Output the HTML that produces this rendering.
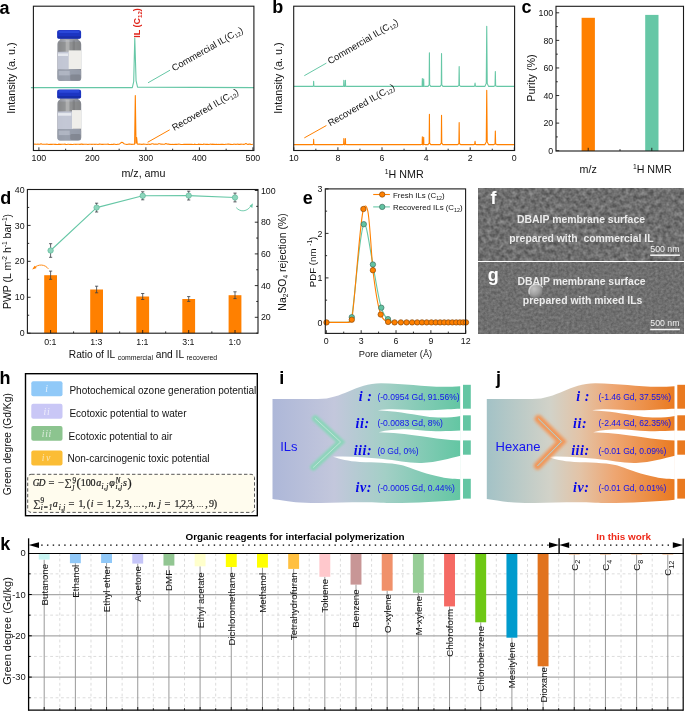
<!DOCTYPE html>
<html lang="en"><head><meta charset="utf-8"><title>Figure</title>
<style>html,body{margin:0;padding:0;background:#fff}svg{display:block}</style>
</head><body>
<svg width="685" height="711" viewBox="0 0 685 711" font-family='"Liberation Sans", Arial, sans-serif' shape-rendering="geometricPrecision">
<defs>
<linearGradient id="gBody" x1="0" y1="0" x2="1" y2="0">
<stop offset="0" stop-color="#8b8e96"/><stop offset="0.35" stop-color="#a9acb3"/><stop offset="0.7" stop-color="#979aa2"/><stop offset="1" stop-color="#83868d"/>
</linearGradient>
<linearGradient id="gIL" x1="0" y1="0" x2="1" y2="0">
<stop offset="0" stop-color="#adb7d8"/><stop offset="0.33" stop-color="#c3c7dc"/><stop offset="0.6" stop-color="#a3cfc6"/><stop offset="1" stop-color="#63c6a3"/>
</linearGradient>
<linearGradient id="gHX" x1="0" y1="0" x2="1" y2="0">
<stop offset="0" stop-color="#a3c2c6"/><stop offset="0.34" stop-color="#d2d2c8"/><stop offset="0.5" stop-color="#e3c3a6"/><stop offset="0.68" stop-color="#eea672"/><stop offset="1" stop-color="#ea7a20"/>
</linearGradient>
<filter id="blur2" x="-30%" y="-30%" width="160%" height="160%"><feGaussianBlur stdDeviation="1.1"/></filter>
<filter id="blur3" x="-30%" y="-30%" width="160%" height="160%"><feGaussianBlur stdDeviation="1.7"/></filter>
<filter id="soft" x="-10%" y="-10%" width="120%" height="120%"><feGaussianBlur stdDeviation="0.45"/></filter>
<filter id="semF" color-interpolation-filters="sRGB" x="0" y="0" width="100%" height="100%">
<feTurbulence type="fractalNoise" baseFrequency="0.24" numOctaves="2" seed="7" result="n"/>
<feColorMatrix type="matrix" values="0.38 0 0 0 0.245  0.38 0 0 0 0.245  0.38 0 0 0 0.245  0 0 0 0 1"/>
</filter>
<filter id="semG" color-interpolation-filters="sRGB" x="0" y="0" width="100%" height="100%">
<feTurbulence type="fractalNoise" baseFrequency="0.36" numOctaves="2" seed="11" result="n"/>
<feColorMatrix type="matrix" values="0.22 0 0 0 0.325  0.22 0 0 0 0.325  0.22 0 0 0 0.325  0 0 0 0 1"/>
</filter>
<radialGradient id="blob" cx="0.4" cy="0.35" r="0.65">
<stop offset="0" stop-color="#c9c9c9"/><stop offset="0.6" stop-color="#a5a5a5"/><stop offset="1" stop-color="#7d7d7d"/>
</radialGradient>
</defs>
<rect x="0" y="0" width="685" height="711" fill="#fff" />
<g>
<text x="-0.6" y="13.7" font-size="18" text-anchor="start" fill="#000" font-weight="bold" font-style="normal" >a</text>
<g transform="translate(57.2 29.9)" filter="url(#soft)">
<path d="M3,7.5 L21,7.5 L21.2,10 C23,11 24,12.4 24,14.5 L24,48 C24,50 22.5,51 20.5,51 L3.5,51 C1.5,51 0.2,50 0.2,48 L0.2,14.5 C0.2,12.4 1.2,11 2.8,10 Z" fill="url(#gBody)"/>
<rect x="1.2" y="12" width="21.8" height="9.5" fill="#84847f" opacity="0.55"/>
<rect x="8.5" y="10" width="3.8" height="12" fill="#c6c7c6" opacity="0.55"/>
<rect x="15.5" y="10.5" width="2.2" height="10" fill="#6d6e70" opacity="0.4"/>
<rect x="0.4" y="22" width="12" height="17.5" fill="#c6cad8" opacity="0.92"/>
<rect x="0.8" y="23.5" width="10" height="2.6" fill="#eceef3" opacity="0.85"/>
<rect x="0.3" y="39.5" width="23.6" height="11.3" rx="2" fill="#969dac" opacity="0.85"/>
<rect x="1.5" y="41" width="11" height="4.5" fill="#b9bfcc" opacity="0.7"/>
<rect x="13" y="44.5" width="10.5" height="6" rx="1.5" fill="#72777f" opacity="0.55"/>
<rect x="11.5" y="20.5" width="12.5" height="18.6" fill="#efeeea"/>
<path d="M2.2,0 L21.6,0 C22.9,0 23.9,0.9 23.9,2.2 L23.9,7.2 C23.9,8.4 23.3,8.9 22.3,8.9 L1.5,8.9 C0.5,8.9 -0.1,8.4 -0.1,7.2 L-0.1,2.2 C-0.1,0.9 0.9,0 2.2,0 Z" fill="#1f36c2"/>
<rect x="1.6" y="0.5" width="20.6" height="2.6" rx="1.3" fill="#2d49dc" opacity="0.9"/>
<rect x="0.5" y="6.4" width="22.8" height="2.2" rx="1" fill="#172a9c" opacity="0.7"/>
</g>
<g transform="translate(57.2 89.6)" filter="url(#soft)">
<path d="M3,7.5 L21,7.5 L21.2,10 C23,11 24,12.4 24,14.5 L24,48 C24,50 22.5,51 20.5,51 L3.5,51 C1.5,51 0.2,50 0.2,48 L0.2,14.5 C0.2,12.4 1.2,11 2.8,10 Z" fill="url(#gBody)"/>
<rect x="1.2" y="12" width="21.8" height="9.5" fill="#84847f" opacity="0.55"/>
<rect x="8.5" y="10" width="3.8" height="12" fill="#c6c7c6" opacity="0.55"/>
<rect x="15.5" y="10.5" width="2.2" height="10" fill="#6d6e70" opacity="0.4"/>
<rect x="0.4" y="22" width="15.3" height="17.5" fill="#c6cad8" opacity="0.92"/>
<rect x="0.8" y="23.5" width="13.3" height="2.6" fill="#eceef3" opacity="0.85"/>
<rect x="0.3" y="39.5" width="23.6" height="11.3" rx="2" fill="#969dac" opacity="0.85"/>
<rect x="1.5" y="41" width="11" height="4.5" fill="#b9bfcc" opacity="0.7"/>
<rect x="13" y="44.5" width="10.5" height="6" rx="1.5" fill="#72777f" opacity="0.55"/>
<rect x="14.8" y="20.5" width="9.2" height="18.6" fill="#efeeea"/>
<path d="M2.2,0 L21.6,0 C22.9,0 23.9,0.9 23.9,2.2 L23.9,7.2 C23.9,8.4 23.3,8.9 22.3,8.9 L1.5,8.9 C0.5,8.9 -0.1,8.4 -0.1,7.2 L-0.1,2.2 C-0.1,0.9 0.9,0 2.2,0 Z" fill="#1f36c2"/>
<rect x="1.6" y="0.5" width="20.6" height="2.6" rx="1.3" fill="#2d49dc" opacity="0.9"/>
<rect x="0.5" y="6.4" width="22.8" height="2.2" rx="1" fill="#172a9c" opacity="0.7"/>
</g>
<polyline points="30.9,87.6 132.31,87.6 133.7,81.6 134.77,38 136.06,80.6 137.55,87.1 253.9,87.6" fill="none" stroke="#66C7A6" stroke-width="1.1" stroke-linejoin="round" />
<polyline points="33.9,144.2 34.9,144.16 35.9,144.26 36.9,144.18 37.9,144.14 38.9,144.26 39.9,144.28 40.9,143.72 41.9,144.08 42.9,144.18 43.9,144.31 44.9,144.22 45.9,144.18 46.9,144.16 47.9,144.2 48.9,144.45 49.9,144.42 50.9,144.41 51.9,144.41 52.9,144.19 53.9,144.23 54.9,144.35 55.9,144.38 56.9,144.43 57.9,144.44 58.9,144.15 59.9,144.34 60.9,144.36 61.9,144.3 62.9,144.18 63.9,144.29 64.9,144.15 65.9,144.46 66.9,144.43 67.9,144.32 68.9,144.23 69.9,144.45 70.9,144.33 71.9,144.44 72.9,144.43 73.9,144.3 74.9,144.27 75.9,144.34 76.9,144.28 77.9,144.18 78.9,144.23 79.9,144.41 80.9,144.14 81.9,144.14 82.9,144.35 83.9,144.22 84.9,144.31 85.9,144.29 86.9,144.24 87.9,144.48 88.9,144.19 89.9,144.27 90.9,144.19 91.9,144.35 92.9,144.22 93.9,144.25 94.9,144.39 95.9,144.24 96.9,144.32 97.9,144.45 98.9,144.16 99.9,144.14 100.9,144.2 101.9,144.4 102.9,144.34 103.9,144.21 104.9,144.24 105.9,144.18 106.9,144.29 107.9,144.14 108.9,144.37 109.9,144.44 110.9,144.46 111.9,144.38 112.9,144.47 113.9,144.13 114.9,144.22 115.9,144.47 116.9,144.4 117.9,144.24 118.9,144.26 119.9,143.61 120.9,142.83 121.9,142.23 122.9,142.72 123.9,143.65 124.9,144.01 125.9,144.23 126.9,144.46 127.9,144.24 128.9,144.12 129.9,144.14 130.9,144.18 131.9,144.4 132.9,144.25 133.9,144.22 134.61,144.3 135.31,95.5 136,143.3 136.64,137.5 137.29,144 137.9,144.19 138.9,144.14 139.9,144.14 140.9,144.18 141.9,144.36 142.9,144.17 143.9,144.13 144.9,144.3 145.9,144.21 146.9,144.48 147.9,144.16 148.9,144.31 149.9,144.4 150.9,144.18 151.9,143.81 152.9,143.74 153.9,144.15 154.9,144.27 155.9,144.13 156.9,144.27 157.9,144.09 158.9,143.67 159.9,143.83 160.9,144.25 161.9,144.13 162.9,144.21 163.9,144.21 164.9,144.09 165.9,143.58 166.9,144 167.9,144.14 168.9,144.14 169.9,144.45 170.9,144.32 171.9,144.48 172.9,144.27 173.9,144.44 174.9,144.36 175.9,144.4 176.9,144.39 177.9,144.3 178.9,144.15 179.9,144.2 180.9,144.43 181.9,144.44 182.9,144.45 183.9,144.24 184.9,144.36 185.9,144.41 186.9,144.35 187.9,144.41 188.9,144.31 189.9,144.36 190.9,144.37 191.9,144.22 192.9,144.45 193.9,144.46 194.9,144.15 195.9,144.47 196.9,144.47 197.9,144.36 198.9,144.14 199.9,144.44 200.9,144.17 201.9,144.47 202.9,144.36 203.9,144.14 204.9,144.18 205.9,144.35 206.9,144.32 207.9,144.39 208.9,144.45 209.9,144.2 210.9,144.12 211.9,144.45 212.9,144.12 213.9,144.44 214.9,144.16 215.9,144.41 216.9,144.4 217.9,144.44 218.9,144.32 219.9,144.44 220.9,144.19 221.9,144.36 222.9,144.24 223.9,144.44 224.9,144.4 225.9,144.29 226.9,144.31 227.9,144.13 228.9,144.13 229.9,144.33 230.9,144.3 231.9,144.43 232.9,144.34 233.9,144.17 234.9,144.25 235.9,144.4 236.9,144.31 237.9,144.12 238.9,144.42 239.9,144.42 240.9,144.15 241.9,144.32 242.9,144.26 243.9,144.4 244.9,144.05 245.9,143.61 246.9,144.07 247.9,144.46 248.9,144.15 249.9,144.16 250.9,144.34 251.9,144.44 252.9,144.3" fill="none" stroke="#FF8000" stroke-width="1.1" stroke-linejoin="round" />
<line x1="38.9" y1="150.5" x2="38.9" y2="147.3" stroke="#1a1a1a" stroke-width="0.9" />
<line x1="65.65" y1="150.5" x2="65.65" y2="148.7" stroke="#1a1a1a" stroke-width="0.9" />
<line x1="92.4" y1="150.5" x2="92.4" y2="147.3" stroke="#1a1a1a" stroke-width="0.9" />
<line x1="119.15" y1="150.5" x2="119.15" y2="148.7" stroke="#1a1a1a" stroke-width="0.9" />
<line x1="145.9" y1="150.5" x2="145.9" y2="147.3" stroke="#1a1a1a" stroke-width="0.9" />
<line x1="172.65" y1="150.5" x2="172.65" y2="148.7" stroke="#1a1a1a" stroke-width="0.9" />
<line x1="199.4" y1="150.5" x2="199.4" y2="147.3" stroke="#1a1a1a" stroke-width="0.9" />
<line x1="226.15" y1="150.5" x2="226.15" y2="148.7" stroke="#1a1a1a" stroke-width="0.9" />
<line x1="252.9" y1="150.5" x2="252.9" y2="147.3" stroke="#1a1a1a" stroke-width="0.9" />
<rect x="33.4" y="6.2" width="220.5" height="144.3" fill="none" stroke="#1a1a1a" stroke-width="1.1"/>
<text x="38.9" y="161.25" font-size="8.8" text-anchor="middle" fill="#111" font-weight="normal" font-style="normal" >100</text>
<text x="92.4" y="161.25" font-size="8.8" text-anchor="middle" fill="#111" font-weight="normal" font-style="normal" >200</text>
<text x="145.9" y="161.25" font-size="8.8" text-anchor="middle" fill="#111" font-weight="normal" font-style="normal" >300</text>
<text x="199.4" y="161.25" font-size="8.8" text-anchor="middle" fill="#111" font-weight="normal" font-style="normal" >400</text>
<text x="252.9" y="161.25" font-size="8.8" text-anchor="middle" fill="#111" font-weight="normal" font-style="normal" >500</text>
<text x="143.4" y="177.03" font-size="10.7" text-anchor="middle" fill="#111" font-weight="normal" font-style="normal" >m/z, amu</text>
<text x="15.47" y="78.1" font-size="10.8" text-anchor="middle" fill="#111" font-weight="normal" font-style="normal" transform="rotate(-90 15.47 78.1)" >Intansity (a. u.)</text>
<text x="140.3" y="37.8" font-size="9" text-anchor="start" fill="#e0261c" font-weight="bold" font-style="normal" transform="rotate(-90 140.3 37.8)" >IL (C<tspan font-size="6" dy="1.8">12</tspan><tspan dy="-1.8">)</tspan></text>
<line x1="148" y1="82.8" x2="170" y2="70.2" stroke="#66C7A6" stroke-width="1" />
<text x="174" y="71.4" font-size="9.4" text-anchor="start" fill="#111" font-weight="normal" font-style="normal" transform="rotate(-29.5 174 71.4)" >Commercial IL(C<tspan font-size="6" dy="1.8">12</tspan><tspan dy="-1.8">)</tspan></text>
<line x1="147.6" y1="142.3" x2="169.7" y2="129.8" stroke="#FF8000" stroke-width="1" />
<text x="174.2" y="131" font-size="9.3" text-anchor="start" fill="#111" font-weight="normal" font-style="normal" transform="rotate(-29.8 174.2 131)" >Recovered IL(C<tspan font-size="6" dy="1.8">12</tspan><tspan dy="-1.8">)</tspan></text>
</g>
<g>
<text x="272.3" y="13.4" font-size="18" text-anchor="start" fill="#000" font-weight="bold" font-style="normal" >b</text>
<polyline points="293.7,86.4 312.29,86.4 313.44,86.14 313.64,81.2 313.85,86.14 315,86.4 342.5,86.4 343.64,86.09 343.85,80.3 344.06,86.09 345.2,86.4 344.05,86.4 345.19,86.09 345.4,80.3 345.61,86.09 346.75,86.4 421,86.4 422.14,86.01 422.35,78.6 422.56,86.01 423.7,86.4 422.32,86.4 423.46,86.03 423.67,79 423.88,86.03 425.02,86.4 428.01,86.4 429.17,84.72 429.41,52.7 429.65,84.72 430.81,86.4 440.13,86.4 441.29,84.76 441.53,53.5 441.77,84.76 442.93,86.4 457.72,86.4 458.9,85.41 459.17,66.6 459.44,85.41 460.62,86.4 473.35,86.4 474.63,86.23 475.05,83 475.47,86.23 476.75,86.4 484.94,86.4 486.26,83.39 486.74,26.2 487.22,83.39 488.54,86.4 493.84,86.4 495.04,85.66 495.34,71.5 495.64,85.66 496.84,86.4 514.6,86.4" fill="none" stroke="#66C7A6" stroke-width="1.1" stroke-linejoin="round" />
<polyline points="293.7,144.6 312.29,144.6 313.44,144.34 313.64,139.4 313.85,144.34 315,144.6 342.5,144.6 343.64,144.29 343.85,138.5 344.06,144.29 345.2,144.6 344.05,144.6 345.19,144.29 345.4,138.5 345.61,144.29 346.75,144.6 421,144.6 422.14,144.21 422.35,136.8 422.56,144.21 423.7,144.6 422.32,144.6 423.46,144.23 423.67,137.2 423.88,144.23 425.02,144.6 428.01,144.6 429.17,143.09 429.41,114.3 429.65,143.09 430.81,144.6 440.13,144.6 441.29,143.13 441.53,115.2 441.77,143.13 442.93,144.6 457.72,144.6 458.9,143.5 459.17,122.5 459.44,143.5 460.62,144.6 473.35,144.6 474.63,144.43 475.05,141.2 475.47,144.43 476.75,144.6 484.94,144.6 486.26,141.88 486.74,90.3 487.22,141.88 488.54,144.6 493.84,144.6 495.04,143.92 495.34,131.1 495.64,143.92 496.84,144.6 514.6,144.6" fill="none" stroke="#FF8000" stroke-width="1.1" stroke-linejoin="round" />
<line x1="514.3" y1="150.5" x2="514.3" y2="147.3" stroke="#1a1a1a" stroke-width="0.9" />
<line x1="492.25" y1="150.5" x2="492.25" y2="148.7" stroke="#1a1a1a" stroke-width="0.9" />
<line x1="470.2" y1="150.5" x2="470.2" y2="147.3" stroke="#1a1a1a" stroke-width="0.9" />
<line x1="448.15" y1="150.5" x2="448.15" y2="148.7" stroke="#1a1a1a" stroke-width="0.9" />
<line x1="426.1" y1="150.5" x2="426.1" y2="147.3" stroke="#1a1a1a" stroke-width="0.9" />
<line x1="404.05" y1="150.5" x2="404.05" y2="148.7" stroke="#1a1a1a" stroke-width="0.9" />
<line x1="382" y1="150.5" x2="382" y2="147.3" stroke="#1a1a1a" stroke-width="0.9" />
<line x1="359.95" y1="150.5" x2="359.95" y2="148.7" stroke="#1a1a1a" stroke-width="0.9" />
<line x1="337.9" y1="150.5" x2="337.9" y2="147.3" stroke="#1a1a1a" stroke-width="0.9" />
<line x1="315.85" y1="150.5" x2="315.85" y2="148.7" stroke="#1a1a1a" stroke-width="0.9" />
<line x1="293.8" y1="150.5" x2="293.8" y2="147.3" stroke="#1a1a1a" stroke-width="0.9" />
<rect x="293.7" y="6.2" width="220.9" height="144.3" fill="none" stroke="#1a1a1a" stroke-width="1.1"/>
<text x="514.3" y="161.25" font-size="8.8" text-anchor="middle" fill="#111" font-weight="normal" font-style="normal" >0</text>
<text x="470.2" y="161.25" font-size="8.8" text-anchor="middle" fill="#111" font-weight="normal" font-style="normal" >2</text>
<text x="426.1" y="161.25" font-size="8.8" text-anchor="middle" fill="#111" font-weight="normal" font-style="normal" >4</text>
<text x="382" y="161.25" font-size="8.8" text-anchor="middle" fill="#111" font-weight="normal" font-style="normal" >6</text>
<text x="337.9" y="161.25" font-size="8.8" text-anchor="middle" fill="#111" font-weight="normal" font-style="normal" >8</text>
<text x="293.8" y="161.25" font-size="8.8" text-anchor="middle" fill="#111" font-weight="normal" font-style="normal" >10</text>
<text x="384.8" y="177.9" font-size="10.7" text-anchor="start" fill="#111" font-weight="normal" font-style="normal" ><tspan font-size="6.8" dy="-4">1</tspan><tspan dy="4">H NMR</tspan></text>
<text x="282.27" y="78.1" font-size="10.8" text-anchor="middle" fill="#111" font-weight="normal" font-style="normal" transform="rotate(-90 282.27 78.1)" >Intansity (a. u.)</text>
<line x1="304.3" y1="75.7" x2="326.4" y2="63.1" stroke="#66C7A6" stroke-width="1" />
<text x="330" y="64.4" font-size="9.35" text-anchor="start" fill="#111" font-weight="normal" font-style="normal" transform="rotate(-30.5 330 64.4)" >Commercial IL(C<tspan font-size="6" dy="1.8">12</tspan><tspan dy="-1.8">)</tspan></text>
<line x1="304.3" y1="137.9" x2="326.4" y2="125.5" stroke="#FF8000" stroke-width="1" />
<text x="330.2" y="126.5" font-size="9.35" text-anchor="start" fill="#111" font-weight="normal" font-style="normal" transform="rotate(-30 330.2 126.5)" >Recovered IL(C<tspan font-size="6" dy="1.8">12</tspan><tspan dy="-1.8">)</tspan></text>
</g>
<g>
<text x="521.6" y="12.9" font-size="18" text-anchor="start" fill="#000" font-weight="bold" font-style="normal" >c</text>
<rect x="581.6" y="17.8" width="13.3" height="133.2" fill="#FF8000" />
<rect x="645.2" y="14.9" width="13.3" height="136.1" fill="#66C7A6" />
<line x1="556" y1="150.7" x2="559.2" y2="150.7" stroke="#1a1a1a" stroke-width="0.9" />
<line x1="556" y1="136.91" x2="557.8" y2="136.91" stroke="#1a1a1a" stroke-width="0.9" />
<line x1="556" y1="123.12" x2="559.2" y2="123.12" stroke="#1a1a1a" stroke-width="0.9" />
<line x1="556" y1="109.33" x2="557.8" y2="109.33" stroke="#1a1a1a" stroke-width="0.9" />
<line x1="556" y1="95.54" x2="559.2" y2="95.54" stroke="#1a1a1a" stroke-width="0.9" />
<line x1="556" y1="81.75" x2="557.8" y2="81.75" stroke="#1a1a1a" stroke-width="0.9" />
<line x1="556" y1="67.96" x2="559.2" y2="67.96" stroke="#1a1a1a" stroke-width="0.9" />
<line x1="556" y1="54.17" x2="557.8" y2="54.17" stroke="#1a1a1a" stroke-width="0.9" />
<line x1="556" y1="40.38" x2="559.2" y2="40.38" stroke="#1a1a1a" stroke-width="0.9" />
<line x1="556" y1="26.59" x2="557.8" y2="26.59" stroke="#1a1a1a" stroke-width="0.9" />
<line x1="556" y1="12.8" x2="559.2" y2="12.8" stroke="#1a1a1a" stroke-width="0.9" />
<line x1="588.2" y1="151" x2="588.2" y2="147.8" stroke="#1a1a1a" stroke-width="0.9" />
<line x1="620" y1="151" x2="620" y2="149.2" stroke="#1a1a1a" stroke-width="0.9" />
<line x1="651.8" y1="151" x2="651.8" y2="147.8" stroke="#1a1a1a" stroke-width="0.9" />
<rect x="556" y="6.3" width="127.5" height="144.7" fill="none" stroke="#1a1a1a" stroke-width="1.1"/>
<text x="553.2" y="153.85" font-size="8.8" text-anchor="end" fill="#111" font-weight="normal" font-style="normal" >0</text>
<text x="553.2" y="126.27" font-size="8.8" text-anchor="end" fill="#111" font-weight="normal" font-style="normal" >20</text>
<text x="553.2" y="98.69" font-size="8.8" text-anchor="end" fill="#111" font-weight="normal" font-style="normal" >40</text>
<text x="553.2" y="71.11" font-size="8.8" text-anchor="end" fill="#111" font-weight="normal" font-style="normal" >60</text>
<text x="553.2" y="43.53" font-size="8.8" text-anchor="end" fill="#111" font-weight="normal" font-style="normal" >80</text>
<text x="553.2" y="15.95" font-size="8.8" text-anchor="end" fill="#111" font-weight="normal" font-style="normal" >100</text>
<text x="535.07" y="78" font-size="10.8" text-anchor="middle" fill="#111" font-weight="normal" font-style="normal" transform="rotate(-90 535.07 78)" >Purity (%)</text>
<text x="588.2" y="172.83" font-size="10.7" text-anchor="middle" fill="#111" font-weight="normal" font-style="normal" >m/z</text>
<text x="632.9" y="172.8" font-size="10.7" text-anchor="start" fill="#111" font-weight="normal" font-style="normal" ><tspan font-size="6.8" dy="-4">1</tspan><tspan dy="4">H NMR</tspan></text>
</g>
<g>
<text x="0.3" y="203.6" font-size="18" text-anchor="start" fill="#000" font-weight="bold" font-style="normal" >d</text>
<rect x="44.2" y="275.2" width="12.8" height="58" fill="#FF8000" />
<line x1="50.6" y1="271.1" x2="50.6" y2="279.3" stroke="#3a3f45" stroke-width="0.8" />
<line x1="49" y1="271.1" x2="52.2" y2="271.1" stroke="#3a3f45" stroke-width="0.8" />
<line x1="49" y1="279.3" x2="52.2" y2="279.3" stroke="#3a3f45" stroke-width="0.8" />
<rect x="90.2" y="289.5" width="12.8" height="43.7" fill="#FF8000" />
<line x1="96.6" y1="286.2" x2="96.6" y2="292.8" stroke="#3a3f45" stroke-width="0.8" />
<line x1="95" y1="286.2" x2="98.2" y2="286.2" stroke="#3a3f45" stroke-width="0.8" />
<line x1="95" y1="292.8" x2="98.2" y2="292.8" stroke="#3a3f45" stroke-width="0.8" />
<rect x="136.3" y="296.5" width="12.8" height="36.7" fill="#FF8000" />
<line x1="142.7" y1="293.5" x2="142.7" y2="299.5" stroke="#3a3f45" stroke-width="0.8" />
<line x1="141.1" y1="293.5" x2="144.3" y2="293.5" stroke="#3a3f45" stroke-width="0.8" />
<line x1="141.1" y1="299.5" x2="144.3" y2="299.5" stroke="#3a3f45" stroke-width="0.8" />
<rect x="182.3" y="299" width="12.8" height="34.2" fill="#FF8000" />
<line x1="188.7" y1="296.6" x2="188.7" y2="301.4" stroke="#3a3f45" stroke-width="0.8" />
<line x1="187.1" y1="296.6" x2="190.3" y2="296.6" stroke="#3a3f45" stroke-width="0.8" />
<line x1="187.1" y1="301.4" x2="190.3" y2="301.4" stroke="#3a3f45" stroke-width="0.8" />
<rect x="228.6" y="295.2" width="12.8" height="38" fill="#FF8000" />
<line x1="235" y1="291.8" x2="235" y2="298.6" stroke="#3a3f45" stroke-width="0.8" />
<line x1="233.4" y1="291.8" x2="236.6" y2="291.8" stroke="#3a3f45" stroke-width="0.8" />
<line x1="233.4" y1="298.6" x2="236.6" y2="298.6" stroke="#3a3f45" stroke-width="0.8" />
<polyline points="50.6,250.5 96.6,207.6 142.7,195.8 188.7,195.6 235,197.5" fill="none" stroke="#66C7A6" stroke-width="1.1" stroke-linejoin="round" />
<line x1="50.6" y1="243.7" x2="50.6" y2="257.3" stroke="#3a3f45" stroke-width="0.8" />
<line x1="49" y1="243.7" x2="52.2" y2="243.7" stroke="#3a3f45" stroke-width="0.8" />
<line x1="49" y1="257.3" x2="52.2" y2="257.3" stroke="#3a3f45" stroke-width="0.8" />
<circle cx="50.6" cy="250.5" r="2.7" fill="#8ed6bd" stroke="#5fb898" stroke-width="0.7"/>
<line x1="96.6" y1="203.2" x2="96.6" y2="212" stroke="#3a3f45" stroke-width="0.8" />
<line x1="95" y1="203.2" x2="98.2" y2="203.2" stroke="#3a3f45" stroke-width="0.8" />
<line x1="95" y1="212" x2="98.2" y2="212" stroke="#3a3f45" stroke-width="0.8" />
<circle cx="96.6" cy="207.6" r="2.7" fill="#8ed6bd" stroke="#5fb898" stroke-width="0.7"/>
<line x1="142.7" y1="191.8" x2="142.7" y2="199.8" stroke="#3a3f45" stroke-width="0.8" />
<line x1="141.1" y1="191.8" x2="144.3" y2="191.8" stroke="#3a3f45" stroke-width="0.8" />
<line x1="141.1" y1="199.8" x2="144.3" y2="199.8" stroke="#3a3f45" stroke-width="0.8" />
<circle cx="142.7" cy="195.8" r="2.7" fill="#8ed6bd" stroke="#5fb898" stroke-width="0.7"/>
<line x1="188.7" y1="191.2" x2="188.7" y2="200" stroke="#3a3f45" stroke-width="0.8" />
<line x1="187.1" y1="191.2" x2="190.3" y2="191.2" stroke="#3a3f45" stroke-width="0.8" />
<line x1="187.1" y1="200" x2="190.3" y2="200" stroke="#3a3f45" stroke-width="0.8" />
<circle cx="188.7" cy="195.6" r="2.7" fill="#8ed6bd" stroke="#5fb898" stroke-width="0.7"/>
<line x1="235" y1="193.1" x2="235" y2="201.9" stroke="#3a3f45" stroke-width="0.8" />
<line x1="233.4" y1="193.1" x2="236.6" y2="193.1" stroke="#3a3f45" stroke-width="0.8" />
<line x1="233.4" y1="201.9" x2="236.6" y2="201.9" stroke="#3a3f45" stroke-width="0.8" />
<circle cx="235" cy="197.5" r="2.7" fill="#8ed6bd" stroke="#5fb898" stroke-width="0.7"/>
<path d="M48.4,268.9 C45,264.2 38.5,263.6 33.6,268.2" fill="none" stroke="#FF8000" stroke-width="0.9" />
<path d="M32.2,269.6 L36.6,267.9 L34.6,265.7 Z" fill="#FF8000" stroke="none" stroke-width="1" />
<path d="M236.2,207.6 C240.5,212.6 247.5,211.8 251.4,205.2" fill="none" stroke="#66C7A6" stroke-width="0.9" />
<path d="M252.9,203.2 L252.3,208 L249.5,205.9 Z" fill="#66C7A6" stroke="none" stroke-width="1" />
<line x1="27.4" y1="333.2" x2="30.6" y2="333.2" stroke="#1a1a1a" stroke-width="0.9" />
<line x1="27.4" y1="315.24" x2="29.2" y2="315.24" stroke="#1a1a1a" stroke-width="0.9" />
<line x1="27.4" y1="297.27" x2="30.6" y2="297.27" stroke="#1a1a1a" stroke-width="0.9" />
<line x1="27.4" y1="279.31" x2="29.2" y2="279.31" stroke="#1a1a1a" stroke-width="0.9" />
<line x1="27.4" y1="261.34" x2="30.6" y2="261.34" stroke="#1a1a1a" stroke-width="0.9" />
<line x1="27.4" y1="243.38" x2="29.2" y2="243.38" stroke="#1a1a1a" stroke-width="0.9" />
<line x1="27.4" y1="225.41" x2="30.6" y2="225.41" stroke="#1a1a1a" stroke-width="0.9" />
<line x1="27.4" y1="207.44" x2="29.2" y2="207.44" stroke="#1a1a1a" stroke-width="0.9" />
<line x1="27.4" y1="189.48" x2="30.6" y2="189.48" stroke="#1a1a1a" stroke-width="0.9" />
<line x1="258" y1="333.15" x2="256.2" y2="333.15" stroke="#1a1a1a" stroke-width="0.9" />
<line x1="258" y1="317.3" x2="254.8" y2="317.3" stroke="#1a1a1a" stroke-width="0.9" />
<line x1="258" y1="301.45" x2="256.2" y2="301.45" stroke="#1a1a1a" stroke-width="0.9" />
<line x1="258" y1="285.6" x2="254.8" y2="285.6" stroke="#1a1a1a" stroke-width="0.9" />
<line x1="258" y1="269.75" x2="256.2" y2="269.75" stroke="#1a1a1a" stroke-width="0.9" />
<line x1="258" y1="253.9" x2="254.8" y2="253.9" stroke="#1a1a1a" stroke-width="0.9" />
<line x1="258" y1="238.05" x2="256.2" y2="238.05" stroke="#1a1a1a" stroke-width="0.9" />
<line x1="258" y1="222.2" x2="254.8" y2="222.2" stroke="#1a1a1a" stroke-width="0.9" />
<line x1="258" y1="206.35" x2="256.2" y2="206.35" stroke="#1a1a1a" stroke-width="0.9" />
<line x1="258" y1="190.5" x2="254.8" y2="190.5" stroke="#1a1a1a" stroke-width="0.9" />
<line x1="50.6" y1="333.2" x2="50.6" y2="330" stroke="#1a1a1a" stroke-width="0.9" />
<line x1="73.6" y1="333.2" x2="73.6" y2="331.4" stroke="#1a1a1a" stroke-width="0.9" />
<line x1="96.6" y1="333.2" x2="96.6" y2="330" stroke="#1a1a1a" stroke-width="0.9" />
<line x1="119.65" y1="333.2" x2="119.65" y2="331.4" stroke="#1a1a1a" stroke-width="0.9" />
<line x1="142.7" y1="333.2" x2="142.7" y2="330" stroke="#1a1a1a" stroke-width="0.9" />
<line x1="165.7" y1="333.2" x2="165.7" y2="331.4" stroke="#1a1a1a" stroke-width="0.9" />
<line x1="188.7" y1="333.2" x2="188.7" y2="330" stroke="#1a1a1a" stroke-width="0.9" />
<line x1="211.85" y1="333.2" x2="211.85" y2="331.4" stroke="#1a1a1a" stroke-width="0.9" />
<line x1="235" y1="333.2" x2="235" y2="330" stroke="#1a1a1a" stroke-width="0.9" />
<rect x="27.4" y="189.5" width="230.6" height="143.7" fill="none" stroke="#1a1a1a" stroke-width="1.1"/>
<text x="24.6" y="336.35" font-size="8.8" text-anchor="end" fill="#111" font-weight="normal" font-style="normal" >0</text>
<text x="24.6" y="300.42" font-size="8.8" text-anchor="end" fill="#111" font-weight="normal" font-style="normal" >10</text>
<text x="24.6" y="264.49" font-size="8.8" text-anchor="end" fill="#111" font-weight="normal" font-style="normal" >20</text>
<text x="24.6" y="228.56" font-size="8.8" text-anchor="end" fill="#111" font-weight="normal" font-style="normal" >30</text>
<text x="24.6" y="192.63" font-size="8.8" text-anchor="end" fill="#111" font-weight="normal" font-style="normal" >40</text>
<text x="260.9" y="320.45" font-size="8.8" text-anchor="start" fill="#111" font-weight="normal" font-style="normal" >20</text>
<text x="260.9" y="288.75" font-size="8.8" text-anchor="start" fill="#111" font-weight="normal" font-style="normal" >40</text>
<text x="260.9" y="257.05" font-size="8.8" text-anchor="start" fill="#111" font-weight="normal" font-style="normal" >60</text>
<text x="260.9" y="225.35" font-size="8.8" text-anchor="start" fill="#111" font-weight="normal" font-style="normal" >80</text>
<text x="260.9" y="193.65" font-size="8.8" text-anchor="start" fill="#111" font-weight="normal" font-style="normal" >100</text>
<text x="50.3" y="344.95" font-size="8.8" text-anchor="middle" fill="#111" font-weight="normal" font-style="normal" >0:1</text>
<text x="96.3" y="344.95" font-size="8.8" text-anchor="middle" fill="#111" font-weight="normal" font-style="normal" >1:3</text>
<text x="142.4" y="344.95" font-size="8.8" text-anchor="middle" fill="#111" font-weight="normal" font-style="normal" >1:1</text>
<text x="188.4" y="344.95" font-size="8.8" text-anchor="middle" fill="#111" font-weight="normal" font-style="normal" >3:1</text>
<text x="234.7" y="344.95" font-size="8.8" text-anchor="middle" fill="#111" font-weight="normal" font-style="normal" >1:0</text>
<text x="10.96" y="261.5" font-size="10.5" text-anchor="middle" fill="#111" font-weight="normal" font-style="normal" transform="rotate(-90 10.96 261.5)" >PWP (L m<tspan font-size="6.6" dy="-3.6">-2</tspan><tspan dy="3.6"> h</tspan><tspan font-size="6.6" dy="-3.6">-1</tspan><tspan dy="3.6"> bar</tspan><tspan font-size="6.6" dy="-3.6">-1</tspan><tspan dy="3.6">)</tspan></text>
<text x="286.04" y="262" font-size="10.45" text-anchor="middle" fill="#111" font-weight="normal" font-style="normal" transform="rotate(-90 286.04 262)" >Na<tspan font-size="6.6" dy="2.4">2</tspan><tspan dy="-2.4">SO</tspan><tspan font-size="6.6" dy="2.4">4</tspan><tspan dy="-2.4"> rejection (%)</tspan></text>
<text x="68.8" y="357.6" font-size="10.2" text-anchor="start" fill="#111" font-weight="normal" font-style="normal" >Ratio of IL <tspan font-size="6.9" dy="2.6">commercial</tspan><tspan dy="-2.6"> and IL </tspan><tspan font-size="6.9" dy="2.6">recovered</tspan></text>
</g>
<g>
<text x="302.8" y="203.6" font-size="18" text-anchor="start" fill="#000" font-weight="bold" font-style="normal" >e</text>
<line x1="325.3" y1="322.4" x2="328.5" y2="322.4" stroke="#1a1a1a" stroke-width="0.9" />
<line x1="325.3" y1="300.15" x2="327.1" y2="300.15" stroke="#1a1a1a" stroke-width="0.9" />
<line x1="325.3" y1="277.9" x2="328.5" y2="277.9" stroke="#1a1a1a" stroke-width="0.9" />
<line x1="325.3" y1="255.65" x2="327.1" y2="255.65" stroke="#1a1a1a" stroke-width="0.9" />
<line x1="325.3" y1="233.4" x2="328.5" y2="233.4" stroke="#1a1a1a" stroke-width="0.9" />
<line x1="325.3" y1="211.15" x2="327.1" y2="211.15" stroke="#1a1a1a" stroke-width="0.9" />
<line x1="325.3" y1="188.9" x2="328.5" y2="188.9" stroke="#1a1a1a" stroke-width="0.9" />
<line x1="326.3" y1="333.4" x2="326.3" y2="330.2" stroke="#1a1a1a" stroke-width="0.9" />
<line x1="343.73" y1="333.4" x2="343.73" y2="331.6" stroke="#1a1a1a" stroke-width="0.9" />
<line x1="361.16" y1="333.4" x2="361.16" y2="330.2" stroke="#1a1a1a" stroke-width="0.9" />
<line x1="378.59" y1="333.4" x2="378.59" y2="331.6" stroke="#1a1a1a" stroke-width="0.9" />
<line x1="396.02" y1="333.4" x2="396.02" y2="330.2" stroke="#1a1a1a" stroke-width="0.9" />
<line x1="413.45" y1="333.4" x2="413.45" y2="331.6" stroke="#1a1a1a" stroke-width="0.9" />
<line x1="430.88" y1="333.4" x2="430.88" y2="330.2" stroke="#1a1a1a" stroke-width="0.9" />
<line x1="448.31" y1="333.4" x2="448.31" y2="331.6" stroke="#1a1a1a" stroke-width="0.9" />
<line x1="465.74" y1="333.4" x2="465.74" y2="330.2" stroke="#1a1a1a" stroke-width="0.9" />
<path d="M326.5,322.4 L347,322.4 C350.5,322.4 351.2,320 351.8,317.2 C355.5,292 359.5,232 363.8,224.2 C366,219.5 369.5,246 372.9,264.5 C376,282 378.5,299 381.3,307.7 C383.5,314 385.5,317.8 388,319.1 C390.5,320.6 392.5,322.4 394.6,322.4 L466,322.4" fill="none" stroke="#66C7A6" stroke-width="1.1" />
<path d="M326.5,322.4 L348.5,322.4 C351,322.4 351.4,321.5 351.8,319.7 C355,300 359.6,224 363.4,209 C364.5,204.8 366.5,204.4 367.9,211.5 C370,223 371.5,256 372.9,270.2 C375.5,292 378.3,307.5 380.7,314.5 C382.8,319.5 385.5,321.4 388.1,321.9 C390.5,322.4 392.5,322.4 394.6,322.4 L466,322.4" fill="none" stroke="#FF8000" stroke-width="1.1" />
<circle cx="351.8" cy="317.2" r="2.7" fill="#62c3a2" stroke="#3f6f60" stroke-width="0.7"/>
<circle cx="363.8" cy="224.2" r="2.7" fill="#62c3a2" stroke="#3f6f60" stroke-width="0.7"/>
<circle cx="372.9" cy="264.5" r="2.7" fill="#62c3a2" stroke="#3f6f60" stroke-width="0.7"/>
<circle cx="381.3" cy="307.7" r="2.7" fill="#62c3a2" stroke="#3f6f60" stroke-width="0.7"/>
<circle cx="388" cy="319.1" r="2.7" fill="#62c3a2" stroke="#3f6f60" stroke-width="0.7"/>
<circle cx="326.5" cy="322.4" r="2.7" fill="#FF8000" stroke="#8a4a0c" stroke-width="0.7"/>
<circle cx="351.8" cy="319.7" r="2.7" fill="#FF8000" stroke="#8a4a0c" stroke-width="0.7"/>
<circle cx="363.4" cy="209" r="2.7" fill="#FF8000" stroke="#8a4a0c" stroke-width="0.7"/>
<circle cx="372.9" cy="270.2" r="2.7" fill="#FF8000" stroke="#8a4a0c" stroke-width="0.7"/>
<circle cx="380.7" cy="314.5" r="2.7" fill="#FF8000" stroke="#8a4a0c" stroke-width="0.7"/>
<circle cx="388.1" cy="321.9" r="2.7" fill="#FF8000" stroke="#8a4a0c" stroke-width="0.7"/>
<circle cx="394.6" cy="322.4" r="2.7" fill="#FF8000" stroke="#8a4a0c" stroke-width="0.7"/>
<circle cx="400.9" cy="322.4" r="2.7" fill="#FF8000" stroke="#8a4a0c" stroke-width="0.7"/>
<circle cx="406.6" cy="322.4" r="2.7" fill="#FF8000" stroke="#8a4a0c" stroke-width="0.7"/>
<circle cx="412.1" cy="322.4" r="2.7" fill="#FF8000" stroke="#8a4a0c" stroke-width="0.7"/>
<circle cx="417.2" cy="322.4" r="2.7" fill="#FF8000" stroke="#8a4a0c" stroke-width="0.7"/>
<circle cx="422" cy="322.4" r="2.7" fill="#FF8000" stroke="#8a4a0c" stroke-width="0.7"/>
<circle cx="426.7" cy="322.4" r="2.7" fill="#FF8000" stroke="#8a4a0c" stroke-width="0.7"/>
<circle cx="431.4" cy="322.4" r="2.7" fill="#FF8000" stroke="#8a4a0c" stroke-width="0.7"/>
<circle cx="435.8" cy="322.4" r="2.7" fill="#FF8000" stroke="#8a4a0c" stroke-width="0.7"/>
<circle cx="440.1" cy="322.4" r="2.7" fill="#FF8000" stroke="#8a4a0c" stroke-width="0.7"/>
<circle cx="444.2" cy="322.4" r="2.7" fill="#FF8000" stroke="#8a4a0c" stroke-width="0.7"/>
<circle cx="448.3" cy="322.4" r="2.7" fill="#FF8000" stroke="#8a4a0c" stroke-width="0.7"/>
<circle cx="452.3" cy="322.4" r="2.7" fill="#FF8000" stroke="#8a4a0c" stroke-width="0.7"/>
<circle cx="456.2" cy="322.4" r="2.7" fill="#FF8000" stroke="#8a4a0c" stroke-width="0.7"/>
<circle cx="459.9" cy="322.4" r="2.7" fill="#FF8000" stroke="#8a4a0c" stroke-width="0.7"/>
<circle cx="463.2" cy="322.4" r="2.7" fill="#FF8000" stroke="#8a4a0c" stroke-width="0.7"/>
<circle cx="466" cy="322.4" r="2.7" fill="#FF8000" stroke="#8a4a0c" stroke-width="0.7"/>
<rect x="325.3" y="188.9" width="140.3" height="144.5" fill="none" stroke="#1a1a1a" stroke-width="1.1"/>
<line x1="373.2" y1="194.5" x2="389.9" y2="194.5" stroke="#FF8000" stroke-width="1.1" />
<circle cx="382.2" cy="194.5" r="2.7" fill="#FF8000" stroke="#8a4a0c" stroke-width="0.7"/>
<line x1="373.2" y1="206.9" x2="389.9" y2="206.9" stroke="#66C7A6" stroke-width="1.1" />
<circle cx="382.2" cy="206.9" r="2.7" fill="#62c3a2" stroke="#3f6f60" stroke-width="0.7"/>
<text x="393" y="197.51" font-size="7.85" text-anchor="start" fill="#111" font-weight="normal" font-style="normal" >Fresh ILs (C<tspan font-size="5.3" dy="2">12</tspan><tspan dy="-2">)</tspan></text>
<text x="393" y="209.91" font-size="7.85" text-anchor="start" fill="#111" font-weight="normal" font-style="normal" >Recovered ILs (C<tspan font-size="5.3" dy="2">12</tspan><tspan dy="-2">)</tspan></text>
<text x="322.4" y="325.55" font-size="8.8" text-anchor="end" fill="#111" font-weight="normal" font-style="normal" >0</text>
<text x="322.4" y="281.05" font-size="8.8" text-anchor="end" fill="#111" font-weight="normal" font-style="normal" >1</text>
<text x="322.4" y="236.55" font-size="8.8" text-anchor="end" fill="#111" font-weight="normal" font-style="normal" >2</text>
<text x="322.4" y="192.05" font-size="8.8" text-anchor="end" fill="#111" font-weight="normal" font-style="normal" >3</text>
<text x="326.3" y="343.95" font-size="8.8" text-anchor="middle" fill="#111" font-weight="normal" font-style="normal" >0</text>
<text x="361.16" y="343.95" font-size="8.8" text-anchor="middle" fill="#111" font-weight="normal" font-style="normal" >3</text>
<text x="396.02" y="343.95" font-size="8.8" text-anchor="middle" fill="#111" font-weight="normal" font-style="normal" >6</text>
<text x="430.88" y="343.95" font-size="8.8" text-anchor="middle" fill="#111" font-weight="normal" font-style="normal" >9</text>
<text x="465.74" y="343.95" font-size="8.8" text-anchor="middle" fill="#111" font-weight="normal" font-style="normal" >12</text>
<text x="395.5" y="357.33" font-size="9.3" text-anchor="middle" fill="#111" font-weight="normal" font-style="normal" >Pore diameter (&#197;)</text>
<text x="315.67" y="262" font-size="9.7" text-anchor="middle" fill="#111" font-weight="normal" font-style="normal" transform="rotate(-90 315.67 262)" >PDF (nm <tspan font-size="6.4" dy="-3.4">-1</tspan><tspan dy="3.4">)</tspan></text>
</g>
<g>
<rect x="478.9" y="188.8" width="204.5" height="71.4" fill="#737373"/>
<rect x="478.9" y="188.8" width="204.5" height="71.4" filter="url(#semF)"/>
<rect x="478.9" y="262.3" width="204.5" height="71.2" fill="#6f6f6f"/>
<rect x="478.9" y="262.3" width="204.5" height="71.2" filter="url(#semG)"/>
<circle cx="535.4" cy="291" r="7.2" fill="url(#blob)" opacity="0.92"/>
<path d="M529.2,293.5 C528.2,288 531.5,284.4 536.8,284.4 C539.4,284.4 541.2,285.4 542.4,287" fill="none" stroke="#d6d6d6" stroke-width="1.3" stroke-linecap="round" filter="url(#soft)" opacity="0.9"/>
<text x="490.4" y="204.3" font-size="18" text-anchor="start" fill="#fff" font-weight="bold" font-style="normal" >f</text>
<text x="487.8" y="281" font-size="18" text-anchor="start" fill="#fff" font-weight="bold" font-style="normal" >g</text>
<text x="581" y="222.94" font-size="10.45" text-anchor="middle" fill="#ececec" font-weight="bold" font-style="normal" >DBAIP membrane surface</text>
<text x="581.4" y="241.74" font-size="10.45" text-anchor="middle" fill="#ececec" font-weight="bold" font-style="normal" xml:space="preserve">prepared with&#160; commercial IL</text>
<text x="581.5" y="284.74" font-size="10.45" text-anchor="middle" fill="#ececec" font-weight="bold" font-style="normal" >DBAIP membrane surface</text>
<text x="582.6" y="304.24" font-size="10.45" text-anchor="middle" fill="#ececec" font-weight="bold" font-style="normal" >prepared with mixed ILs</text>
<text x="664.9" y="251.53" font-size="8.75" text-anchor="middle" fill="#f2f2f2" font-weight="normal" font-style="normal" >500 nm</text>
<line x1="650.2" y1="255.2" x2="679.9" y2="255.2" stroke="#f5f5f5" stroke-width="1.5" />
<text x="664.9" y="326.33" font-size="8.75" text-anchor="middle" fill="#f2f2f2" font-weight="normal" font-style="normal" >500 nm</text>
<line x1="650.2" y1="329.5" x2="679.9" y2="329.5" stroke="#f5f5f5" stroke-width="1.5" />
</g>
<g>
<text x="-0.4" y="384" font-size="18" text-anchor="start" fill="#000" font-weight="bold" font-style="normal" >h</text>
<text x="11.07" y="444.2" font-size="10.25" text-anchor="middle" fill="#111" font-weight="normal" font-style="normal" transform="rotate(-90 11.07 444.2)" >Green degree (Gd/Kg)</text>
<rect x="25.5" y="373.7" width="231.8" height="142" fill="#fff" stroke="#000" stroke-width="1.4"/>
<rect x="31.3" y="381.3" width="31.2" height="14.9" rx="2" fill="#90c9f8"/>
<text x="46.9" y="392.2" font-size="9.8" text-anchor="middle" fill="#e4f1fd" font-weight="normal" font-style="italic" font-family='"Liberation Serif", "DejaVu Serif", serif' letter-spacing="0.7">i</text>
<text x="69.4" y="394.29" font-size="10.04" text-anchor="start" fill="#111" font-weight="normal" font-style="normal" >Photochemical ozone generation potential</text>
<rect x="31.3" y="403.8" width="31.2" height="14.9" rx="2" fill="#c9c7f6"/>
<text x="46.9" y="414.7" font-size="9.8" text-anchor="middle" fill="#efeefc" font-weight="normal" font-style="italic" font-family='"Liberation Serif", "DejaVu Serif", serif' letter-spacing="0.7">ii</text>
<text x="69.4" y="417.19" font-size="10.04" text-anchor="start" fill="#111" font-weight="normal" font-style="normal" >Ecotoxic potential to water</text>
<rect x="31.3" y="425.9" width="31.2" height="14.9" rx="2" fill="#8cc48f"/>
<text x="46.9" y="436.8" font-size="9.8" text-anchor="middle" fill="#dcecdc" font-weight="normal" font-style="italic" font-family='"Liberation Serif", "DejaVu Serif", serif' letter-spacing="0.7">iii</text>
<text x="68.6" y="439.89" font-size="10.04" text-anchor="start" fill="#111" font-weight="normal" font-style="normal" >Ecotoxic potential to air</text>
<rect x="31.3" y="450.5" width="31.2" height="14.9" rx="2" fill="#fbbd35"/>
<text x="46.9" y="461.4" font-size="9.8" text-anchor="middle" fill="#fde6b0" font-weight="normal" font-style="italic" font-family='"Liberation Serif", "DejaVu Serif", serif' letter-spacing="1.6">iv</text>
<text x="67.4" y="462.49" font-size="10.04" text-anchor="start" fill="#111" font-weight="normal" font-style="normal" >Non-carcinogenic toxic potential</text>
<rect x="27.7" y="474.3" width="226.8" height="38.1" rx="3.5" fill="#fffcee" stroke="#444" stroke-width="0.9" stroke-dasharray="3.4 2.2"/>
<text x="32.7" y="486.2" font-size="9.3" text-anchor="start" fill="#1e1e1e" font-weight="normal" font-style="italic" font-family='"Liberation Serif", "DejaVu Serif", serif' stroke="#1e1e1e" stroke-width="0.22" letter-spacing="-0.6">GD</text>
<text x="48.6" y="486.2" font-size="10.5" text-anchor="start" fill="#1e1e1e" font-weight="normal" font-style="normal" font-family='"Liberation Serif", "DejaVu Serif", serif' stroke="#1e1e1e" stroke-width="0.22" >=</text>
<text x="58.3" y="486.2" font-size="10.5" text-anchor="start" fill="#1e1e1e" font-weight="normal" font-style="normal" font-family='"Liberation Serif", "DejaVu Serif", serif' stroke="#1e1e1e" stroke-width="0.22" >&#8722;</text>
<text x="64.8" y="486.2" font-size="10" text-anchor="start" fill="#1e1e1e" font-weight="normal" font-style="normal" font-family='"Liberation Serif", "DejaVu Serif", serif' stroke="#1e1e1e" stroke-width="0.22" >&#8721;</text>
<text x="72.4" y="482.5" font-size="7.3" text-anchor="start" fill="#1e1e1e" font-weight="normal" font-style="normal" font-family='"Liberation Serif", "DejaVu Serif", serif' stroke="#1e1e1e" stroke-width="0.22" >9</text>
<text x="72.6" y="489" font-size="7.3" text-anchor="start" fill="#1e1e1e" font-weight="normal" font-style="italic" font-family='"Liberation Serif", "DejaVu Serif", serif' stroke="#1e1e1e" stroke-width="0.22" >j</text>
<text x="76.6" y="487.2" font-size="12.5" text-anchor="start" fill="#1e1e1e" font-weight="normal" font-style="normal" font-family='"Liberation Serif", "DejaVu Serif", serif' stroke="#1e1e1e" stroke-width="0.22" >(</text>
<text x="80.8" y="486.2" font-size="10" text-anchor="start" fill="#1e1e1e" font-weight="normal" font-style="normal" font-family='"Liberation Serif", "DejaVu Serif", serif' stroke="#1e1e1e" stroke-width="0.22" letter-spacing="-0.1">100</text>
<text x="96.3" y="486.2" font-size="10" text-anchor="start" fill="#1e1e1e" font-weight="normal" font-style="italic" font-family='"Liberation Serif", "DejaVu Serif", serif' stroke="#1e1e1e" stroke-width="0.22" >a</text>
<text x="101.6" y="488.7" font-size="7.3" text-anchor="start" fill="#1e1e1e" font-weight="normal" font-style="italic" font-family='"Liberation Serif", "DejaVu Serif", serif' stroke="#1e1e1e" stroke-width="0.22" letter-spacing="0.35">i,j</text>
<text x="109.3" y="486.2" font-size="10" text-anchor="start" fill="#1e1e1e" font-weight="normal" font-style="italic" font-family='"Liberation Serif", "DejaVu Serif", serif' stroke="#1e1e1e" stroke-width="0.22" >&#966;</text>
<text x="115.6" y="482.5" font-size="7.3" text-anchor="start" fill="#1e1e1e" font-weight="normal" font-style="italic" font-family='"Liberation Serif", "DejaVu Serif", serif' stroke="#1e1e1e" stroke-width="0.22" >N</text>
<text x="115.6" y="489.1" font-size="7.3" text-anchor="start" fill="#1e1e1e" font-weight="normal" font-style="italic" font-family='"Liberation Serif", "DejaVu Serif", serif' stroke="#1e1e1e" stroke-width="0.22" letter-spacing="0.35">i,j</text>
<text x="122.9" y="486.2" font-size="10" text-anchor="start" fill="#1e1e1e" font-weight="normal" font-style="italic" font-family='"Liberation Serif", "DejaVu Serif", serif' stroke="#1e1e1e" stroke-width="0.22" >s</text>
<text x="127.6" y="487.2" font-size="12.5" text-anchor="start" fill="#1e1e1e" font-weight="normal" font-style="normal" font-family='"Liberation Serif", "DejaVu Serif", serif' stroke="#1e1e1e" stroke-width="0.22" >)</text>
<text x="33.4" y="507" font-size="10" text-anchor="start" fill="#1e1e1e" font-weight="normal" font-style="normal" font-family='"Liberation Serif", "DejaVu Serif", serif' stroke="#1e1e1e" stroke-width="0.22" >&#8721;</text>
<text x="40.6" y="503.3" font-size="7.3" text-anchor="start" fill="#1e1e1e" font-weight="normal" font-style="normal" font-family='"Liberation Serif", "DejaVu Serif", serif' stroke="#1e1e1e" stroke-width="0.22" >9</text>
<text x="40.8" y="509.8" font-size="7.3" text-anchor="start" fill="#1e1e1e" font-weight="normal" font-style="italic" font-family='"Liberation Serif", "DejaVu Serif", serif' stroke="#1e1e1e" stroke-width="0.22" letter-spacing="0.55">i=1</text>
<text x="52.8" y="507" font-size="10" text-anchor="start" fill="#1e1e1e" font-weight="normal" font-style="italic" font-family='"Liberation Serif", "DejaVu Serif", serif' stroke="#1e1e1e" stroke-width="0.22" >a</text>
<text x="58.8" y="509.5" font-size="7.3" text-anchor="start" fill="#1e1e1e" font-weight="normal" font-style="italic" font-family='"Liberation Serif", "DejaVu Serif", serif' stroke="#1e1e1e" stroke-width="0.22" letter-spacing="0.35">i,j</text>
<text x="68.6" y="507" font-size="10.5" text-anchor="start" fill="#1e1e1e" font-weight="normal" font-style="normal" font-family='"Liberation Serif", "DejaVu Serif", serif' stroke="#1e1e1e" stroke-width="0.22" >=</text>
<text x="78.4" y="507" font-size="10" text-anchor="start" fill="#1e1e1e" font-weight="normal" font-style="normal" font-family='"Liberation Serif", "DejaVu Serif", serif' stroke="#1e1e1e" stroke-width="0.22" letter-spacing="-0.3">1,</text>
<text x="86.8" y="507" font-size="10" text-anchor="start" fill="#1e1e1e" font-weight="normal" font-style="normal" font-family='"Liberation Serif", "DejaVu Serif", serif' stroke="#1e1e1e" stroke-width="0.22" >(</text>
<text x="90.7" y="507" font-size="10" text-anchor="start" fill="#1e1e1e" font-weight="normal" font-style="italic" font-family='"Liberation Serif", "DejaVu Serif", serif' stroke="#1e1e1e" stroke-width="0.22" >i</text>
<text x="97" y="507" font-size="10.5" text-anchor="start" fill="#1e1e1e" font-weight="normal" font-style="normal" font-family='"Liberation Serif", "DejaVu Serif", serif' stroke="#1e1e1e" stroke-width="0.22" >=</text>
<text x="106.8" y="507" font-size="10" text-anchor="start" fill="#1e1e1e" font-weight="normal" font-style="normal" font-family='"Liberation Serif", "DejaVu Serif", serif' stroke="#1e1e1e" stroke-width="0.22" >1,</text>
<text x="115.7" y="507" font-size="10" text-anchor="start" fill="#1e1e1e" font-weight="normal" font-style="normal" font-family='"Liberation Serif", "DejaVu Serif", serif' stroke="#1e1e1e" stroke-width="0.22" >2,</text>
<text x="124.2" y="507" font-size="10" text-anchor="start" fill="#1e1e1e" font-weight="normal" font-style="normal" font-family='"Liberation Serif", "DejaVu Serif", serif' stroke="#1e1e1e" stroke-width="0.22" >3,</text>
<text x="133.6" y="507" font-size="7" text-anchor="start" fill="#1e1e1e" font-weight="normal" font-style="normal" font-family='"Liberation Serif", "DejaVu Serif", serif' stroke="#1e1e1e" stroke-width="0.22" >&#8230;</text>
<text x="141.8" y="507" font-size="10" text-anchor="start" fill="#1e1e1e" font-weight="normal" font-style="normal" font-family='"Liberation Serif", "DejaVu Serif", serif' stroke="#1e1e1e" stroke-width="0.22" >.</text>
<text x="144.8" y="507" font-size="10" text-anchor="start" fill="#1e1e1e" font-weight="normal" font-style="normal" font-family='"Liberation Serif", "DejaVu Serif", serif' stroke="#1e1e1e" stroke-width="0.22" >,</text>
<text x="148.6" y="507" font-size="10" text-anchor="start" fill="#1e1e1e" font-weight="normal" font-style="italic" font-family='"Liberation Serif", "DejaVu Serif", serif' stroke="#1e1e1e" stroke-width="0.22" >n.</text>
<text x="158.2" y="507" font-size="10" text-anchor="start" fill="#1e1e1e" font-weight="normal" font-style="italic" font-family='"Liberation Serif", "DejaVu Serif", serif' stroke="#1e1e1e" stroke-width="0.22" >j</text>
<text x="164.6" y="507" font-size="10.5" text-anchor="start" fill="#1e1e1e" font-weight="normal" font-style="normal" font-family='"Liberation Serif", "DejaVu Serif", serif' stroke="#1e1e1e" stroke-width="0.22" >=</text>
<text x="174.4" y="507" font-size="10" text-anchor="start" fill="#1e1e1e" font-weight="normal" font-style="normal" font-family='"Liberation Serif", "DejaVu Serif", serif' stroke="#1e1e1e" stroke-width="0.22" letter-spacing="-0.42">1,2,3,</text>
<text x="196.4" y="507" font-size="7" text-anchor="start" fill="#1e1e1e" font-weight="normal" font-style="normal" font-family='"Liberation Serif", "DejaVu Serif", serif' stroke="#1e1e1e" stroke-width="0.22" >&#8230;</text>
<text x="205.2" y="507" font-size="10" text-anchor="start" fill="#1e1e1e" font-weight="normal" font-style="normal" font-family='"Liberation Serif", "DejaVu Serif", serif' stroke="#1e1e1e" stroke-width="0.22" >,</text>
<text x="208.9" y="507" font-size="10" text-anchor="start" fill="#1e1e1e" font-weight="normal" font-style="normal" font-family='"Liberation Serif", "DejaVu Serif", serif' stroke="#1e1e1e" stroke-width="0.22" >9</text>
<text x="213.7" y="507" font-size="10" text-anchor="start" fill="#1e1e1e" font-weight="normal" font-style="normal" font-family='"Liberation Serif", "DejaVu Serif", serif' stroke="#1e1e1e" stroke-width="0.22" >)</text>
</g>
<g>
<text x="279.2" y="384.2" font-size="18" text-anchor="start" fill="#000" font-weight="bold" font-style="normal" >i</text>
<g transform="translate(0 0)">
<path d="M272.5,399 L318,399 C343,399 355,383.4 381,383.2 C410,383.4 430,388.5 460.2,386.2 L460.2,499.7 C440,502 400,503.5 381,502.7 C350,501.5 330,504 300,502.5 C288,501.8 280,500 272.5,499 Z" fill="url(#gIL)" stroke="none" stroke-width="1" />
<path d="M377.8,410.2 C395,407.5 410,411 430,410.2 C445,409.6 452,408.9 460.6,408.7 L460.6,415.9 C450,417.6 440,418.6 425,416.2 C408,413.6 395,411 377.8,410.2 Z" fill="#fff" stroke="none" stroke-width="1" />
<path d="M378.8,432.2 C392,429 405,428.6 420,430.2 C436,431.8 448,431.2 460.6,430.6 L460.6,440.4 C447,440.2 436,438.4 421.7,436.3 C405,433.8 392,432.6 378.8,432.2 Z" fill="#fff" stroke="none" stroke-width="1" />
<path d="M333,456.7 C350,456 365,457.2 381,458.8 C398,460.6 408,463.2 421.7,462.9 C437,462.5 450,458 460.6,455.7 L460.6,479.2 C452,478.8 447,478.4 442,477.2 C434,475.4 428,474 421.7,472 C412,468.8 407,466.4 401,465 C390,462.4 375,462.6 360,461.9 C348,461.2 340,459 333,456.7 Z" fill="#fff" stroke="none" stroke-width="1" />
<rect x="463" y="384.8" width="7.8" height="23.9" fill="#63c6a3" />
<rect x="463" y="415.3" width="7.8" height="15.3" fill="#63c6a3" />
<rect x="463" y="440.4" width="7.8" height="14.3" fill="#63c6a3" />
<rect x="463" y="478.8" width="7.8" height="19.8" fill="#63c6a3" />
<path d="M315.2,418.5 L340.6,442 L313.4,467.3" fill="none" stroke="#8fd4bc" stroke-width="6.8" stroke-linecap="round" stroke-linejoin="miter" filter="url(#blur2)"/>
<path d="M315.2,418.5 L340.6,442 L313.4,467.3" fill="none" stroke="#8fd4bc" stroke-width="4" stroke-linecap="round" stroke-linejoin="miter" opacity="0.85"/>
<path d="M315.2,418.5 L340.6,442 L313.4,467.3" fill="none" stroke="#c6e9dc" stroke-width="0.8" stroke-linecap="round" stroke-linejoin="miter"/>
<text x="280.2" y="450.85" font-size="13" text-anchor="start" fill="#1414f0" font-weight="normal" font-style="normal" >ILs</text>
<text x="372.4" y="401" font-size="14" text-anchor="end" fill="#0505e8" font-weight="bold" font-style="italic" font-family='"Liberation Serif", "DejaVu Serif", serif' letter-spacing="0.55">i :</text>
<text x="369.6" y="427.6" font-size="14" text-anchor="end" fill="#0505e8" font-weight="bold" font-style="italic" font-family='"Liberation Serif", "DejaVu Serif", serif' letter-spacing="0.55">ii:</text>
<text x="372.2" y="455.2" font-size="14" text-anchor="end" fill="#0505e8" font-weight="bold" font-style="italic" font-family='"Liberation Serif", "DejaVu Serif", serif' letter-spacing="0.55">iii:</text>
<text x="372" y="492" font-size="14" text-anchor="end" fill="#0505e8" font-weight="bold" font-style="italic" font-family='"Liberation Serif", "DejaVu Serif", serif' letter-spacing="0.55">iv:</text>
<text x="377.4" y="400.16" font-size="8.55" text-anchor="start" fill="#1212ee" font-weight="normal" font-style="normal" >(-0.0954 Gd, 91.56%)</text>
<text x="377.4" y="426.06" font-size="8.55" text-anchor="start" fill="#1212ee" font-weight="normal" font-style="normal" >(-0.0083 Gd, 8%)</text>
<text x="377.4" y="454.06" font-size="8.55" text-anchor="start" fill="#1212ee" font-weight="normal" font-style="normal" >(0 Gd, 0%)</text>
<text x="377.4" y="490.86" font-size="8.55" text-anchor="start" fill="#1212ee" font-weight="normal" font-style="normal" >(-0.0005 Gd, 0.44%)</text>
</g>
</g>
<g>
<text x="496" y="384.2" font-size="18" text-anchor="start" fill="#000" font-weight="bold" font-style="normal" >j</text>
<g transform="translate(214.3 0)">
<path d="M272.5,399 L318,399 C343,399 355,383.4 381,383.2 C410,383.4 430,388.5 460.2,386.2 L460.2,499.7 C440,502 400,503.5 381,502.7 C350,501.5 330,504 300,502.5 C288,501.8 280,500 272.5,499 Z" fill="url(#gHX)" stroke="none" stroke-width="1" />
<path d="M377.8,410.2 C395,407.5 410,411 430,410.2 C445,409.6 452,408.9 460.6,408.7 L460.6,415.9 C450,417.6 440,418.6 425,416.2 C408,413.6 395,411 377.8,410.2 Z" fill="#fff" stroke="none" stroke-width="1" />
<path d="M378.8,432.2 C392,429 405,428.6 420,430.2 C436,431.8 448,431.2 460.6,430.6 L460.6,440.4 C447,440.2 436,438.4 421.7,436.3 C405,433.8 392,432.6 378.8,432.2 Z" fill="#fff" stroke="none" stroke-width="1" />
<path d="M333,456.7 C350,456 365,457.2 381,458.8 C398,460.6 408,463.2 421.7,462.9 C437,462.5 450,458 460.6,455.7 L460.6,479.2 C452,478.8 447,478.4 442,477.2 C434,475.4 428,474 421.7,472 C412,468.8 407,466.4 401,465 C390,462.4 375,462.6 360,461.9 C348,461.2 340,459 333,456.7 Z" fill="#fff" stroke="none" stroke-width="1" />
<rect x="463" y="384.8" width="7.8" height="23.9" fill="#ea7a20" />
<rect x="463" y="415.3" width="7.8" height="15.3" fill="#ea7a20" />
<rect x="463" y="440.4" width="7.8" height="14.3" fill="#ea7a20" />
<rect x="463" y="478.8" width="7.8" height="19.8" fill="#ea7a20" />
<path d="M324.2,418.9 L347.2,441.6 L323.4,465.7" fill="none" stroke="#f09a5e" stroke-width="8" stroke-linecap="round" stroke-linejoin="miter" filter="url(#blur3)"/>
<path d="M324.2,418.9 L347.2,441.6 L323.4,465.7" fill="none" stroke="#f09a5e" stroke-width="5.2" stroke-linecap="round" stroke-linejoin="miter" opacity="0.45"/>
<path d="M324.2,418.9 L347.2,441.6 L323.4,465.7" fill="none" stroke="#a9d6dc" stroke-width="1" stroke-linecap="round" stroke-linejoin="miter"/>
<text x="281.3" y="450.85" font-size="13" text-anchor="start" fill="#1414f0" font-weight="normal" font-style="normal" >Hexane</text>
<text x="375.6" y="401" font-size="14" text-anchor="end" fill="#0505e8" font-weight="bold" font-style="italic" font-family='"Liberation Serif", "DejaVu Serif", serif' letter-spacing="0.55">i :</text>
<text x="372.8" y="427.6" font-size="14" text-anchor="end" fill="#0505e8" font-weight="bold" font-style="italic" font-family='"Liberation Serif", "DejaVu Serif", serif' letter-spacing="0.55">ii:</text>
<text x="375.4" y="455.2" font-size="14" text-anchor="end" fill="#0505e8" font-weight="bold" font-style="italic" font-family='"Liberation Serif", "DejaVu Serif", serif' letter-spacing="0.55">iii:</text>
<text x="375.2" y="492" font-size="14" text-anchor="end" fill="#0505e8" font-weight="bold" font-style="italic" font-family='"Liberation Serif", "DejaVu Serif", serif' letter-spacing="0.55">iv:</text>
<text x="384.2" y="400.16" font-size="8.55" text-anchor="start" fill="#1212ee" font-weight="normal" font-style="normal" >(-1.46 Gd, 37.55%)</text>
<text x="384.2" y="426.06" font-size="8.55" text-anchor="start" fill="#1212ee" font-weight="normal" font-style="normal" >(-2.44 Gd, 62.35%)</text>
<text x="384.2" y="454.06" font-size="8.55" text-anchor="start" fill="#1212ee" font-weight="normal" font-style="normal" >(-0.01 Gd, 0.09%)</text>
<text x="384.2" y="490.86" font-size="8.55" text-anchor="start" fill="#1212ee" font-weight="normal" font-style="normal" >(-0.01 Gd, 0.01%)</text>
</g>
</g>
<g>
<text x="0.3" y="549.5" font-size="18" text-anchor="start" fill="#000" font-weight="bold" font-style="normal" >k</text>
<line x1="28.6" y1="573.85" x2="683.2" y2="573.85" stroke="#d8d8d8" stroke-width="0.9" stroke-dasharray="2.8 2.6"/>
<line x1="28.6" y1="615.15" x2="683.2" y2="615.15" stroke="#d8d8d8" stroke-width="0.9" stroke-dasharray="2.8 2.6"/>
<line x1="28.6" y1="656.45" x2="683.2" y2="656.45" stroke="#d8d8d8" stroke-width="0.9" stroke-dasharray="2.8 2.6"/>
<line x1="28.6" y1="697.75" x2="683.2" y2="697.75" stroke="#d8d8d8" stroke-width="0.9" stroke-dasharray="2.8 2.6"/>
<line x1="59.79" y1="553.2" x2="59.79" y2="710.2" stroke="#d8d8d8" stroke-width="0.9" stroke-dasharray="2.8 2.6"/>
<line x1="90.97" y1="553.2" x2="90.97" y2="710.2" stroke="#d8d8d8" stroke-width="0.9" stroke-dasharray="2.8 2.6"/>
<line x1="122.15" y1="553.2" x2="122.15" y2="710.2" stroke="#d8d8d8" stroke-width="0.9" stroke-dasharray="2.8 2.6"/>
<line x1="153.33" y1="553.2" x2="153.33" y2="710.2" stroke="#d8d8d8" stroke-width="0.9" stroke-dasharray="2.8 2.6"/>
<line x1="184.51" y1="553.2" x2="184.51" y2="710.2" stroke="#d8d8d8" stroke-width="0.9" stroke-dasharray="2.8 2.6"/>
<line x1="215.69" y1="553.2" x2="215.69" y2="710.2" stroke="#d8d8d8" stroke-width="0.9" stroke-dasharray="2.8 2.6"/>
<line x1="246.87" y1="553.2" x2="246.87" y2="710.2" stroke="#d8d8d8" stroke-width="0.9" stroke-dasharray="2.8 2.6"/>
<line x1="278.05" y1="553.2" x2="278.05" y2="710.2" stroke="#d8d8d8" stroke-width="0.9" stroke-dasharray="2.8 2.6"/>
<line x1="309.23" y1="553.2" x2="309.23" y2="710.2" stroke="#d8d8d8" stroke-width="0.9" stroke-dasharray="2.8 2.6"/>
<line x1="340.41" y1="553.2" x2="340.41" y2="710.2" stroke="#d8d8d8" stroke-width="0.9" stroke-dasharray="2.8 2.6"/>
<line x1="371.59" y1="553.2" x2="371.59" y2="710.2" stroke="#d8d8d8" stroke-width="0.9" stroke-dasharray="2.8 2.6"/>
<line x1="402.77" y1="553.2" x2="402.77" y2="710.2" stroke="#d8d8d8" stroke-width="0.9" stroke-dasharray="2.8 2.6"/>
<line x1="433.95" y1="553.2" x2="433.95" y2="710.2" stroke="#d8d8d8" stroke-width="0.9" stroke-dasharray="2.8 2.6"/>
<line x1="465.13" y1="553.2" x2="465.13" y2="710.2" stroke="#d8d8d8" stroke-width="0.9" stroke-dasharray="2.8 2.6"/>
<line x1="496.31" y1="553.2" x2="496.31" y2="710.2" stroke="#d8d8d8" stroke-width="0.9" stroke-dasharray="2.8 2.6"/>
<line x1="527.49" y1="553.2" x2="527.49" y2="710.2" stroke="#d8d8d8" stroke-width="0.9" stroke-dasharray="2.8 2.6"/>
<line x1="558.67" y1="553.2" x2="558.67" y2="710.2" stroke="#d8d8d8" stroke-width="0.9" stroke-dasharray="2.8 2.6"/>
<line x1="589.85" y1="553.2" x2="589.85" y2="710.2" stroke="#d8d8d8" stroke-width="0.9" stroke-dasharray="2.8 2.6"/>
<line x1="621.03" y1="553.2" x2="621.03" y2="710.2" stroke="#d8d8d8" stroke-width="0.9" stroke-dasharray="2.8 2.6"/>
<line x1="652.21" y1="553.2" x2="652.21" y2="710.2" stroke="#d8d8d8" stroke-width="0.9" stroke-dasharray="2.8 2.6"/>
<line x1="28.6" y1="594.5" x2="683.2" y2="594.5" stroke="#a9a9a9" stroke-width="1.25" />
<line x1="28.6" y1="635.8" x2="683.2" y2="635.8" stroke="#a9a9a9" stroke-width="1.25" />
<line x1="28.6" y1="677.1" x2="683.2" y2="677.1" stroke="#a9a9a9" stroke-width="1.25" />
<line x1="44.2" y1="559.6" x2="44.2" y2="710.2" stroke="#939393" stroke-width="0.95" />
<rect x="38.75" y="553.2" width="10.9" height="6.4" fill="#c8f5f3" />
<text x="47.67" y="563.9" font-size="9.7" text-anchor="end" fill="#111" font-weight="normal" font-style="normal" transform="rotate(-90 47.67 563.9)" >Butanone</text>
<line x1="75.38" y1="563.2" x2="75.38" y2="710.2" stroke="#939393" stroke-width="0.95" />
<rect x="69.93" y="553.2" width="10.9" height="10" fill="#90c8f8" />
<text x="78.85" y="564.8" font-size="9.7" text-anchor="end" fill="#111" font-weight="normal" font-style="normal" transform="rotate(-90 78.85 564.8)" >Ethanol</text>
<line x1="106.56" y1="563" x2="106.56" y2="710.2" stroke="#939393" stroke-width="0.95" />
<rect x="101.11" y="553.2" width="10.9" height="9.8" fill="#90c8f8" />
<text x="110.03" y="565.8" font-size="9.7" text-anchor="end" fill="#111" font-weight="normal" font-style="normal" transform="rotate(-90 110.03 565.8)" >Ethyl ether</text>
<line x1="137.74" y1="563.6" x2="137.74" y2="710.2" stroke="#939393" stroke-width="0.95" />
<rect x="132.29" y="553.2" width="10.9" height="10.4" fill="#c5c5f8" />
<text x="141.21" y="566.2" font-size="9.7" text-anchor="end" fill="#111" font-weight="normal" font-style="normal" transform="rotate(-90 141.21 566.2)" >Acetone</text>
<line x1="168.92" y1="565.6" x2="168.92" y2="710.2" stroke="#939393" stroke-width="0.95" />
<rect x="163.47" y="553.2" width="10.9" height="12.4" fill="#92c692" />
<text x="172.39" y="569.9" font-size="9.7" text-anchor="end" fill="#111" font-weight="normal" font-style="normal" transform="rotate(-90 172.39 569.9)" >DMF</text>
<line x1="200.1" y1="566.3" x2="200.1" y2="710.2" stroke="#939393" stroke-width="0.95" />
<rect x="194.65" y="553.2" width="10.9" height="13.1" fill="#ffffcc" />
<text x="203.57" y="572.3" font-size="9.7" text-anchor="end" fill="#111" font-weight="normal" font-style="normal" transform="rotate(-90 203.57 572.3)" >Ethyl acetate</text>
<line x1="231.28" y1="567" x2="231.28" y2="710.2" stroke="#939393" stroke-width="0.95" />
<rect x="225.83" y="553.2" width="10.9" height="13.8" fill="#ffff00" />
<text x="234.75" y="572.3" font-size="9.7" text-anchor="end" fill="#111" font-weight="normal" font-style="normal" transform="rotate(-90 234.75 572.3)" >Dichloromethane</text>
<line x1="262.46" y1="567.6" x2="262.46" y2="710.2" stroke="#939393" stroke-width="0.95" />
<rect x="257.01" y="553.2" width="10.9" height="14.4" fill="#ffff00" />
<text x="265.93" y="572.9" font-size="9.7" text-anchor="end" fill="#111" font-weight="normal" font-style="normal" transform="rotate(-90 265.93 572.9)" >Methanol</text>
<line x1="293.64" y1="568.9" x2="293.64" y2="710.2" stroke="#939393" stroke-width="0.95" />
<rect x="288.19" y="553.2" width="10.9" height="15.7" fill="#ffc040" />
<text x="297.11" y="572.3" font-size="9.7" text-anchor="end" fill="#111" font-weight="normal" font-style="normal" transform="rotate(-90 297.11 572.3)" >Tetrahydrofuran</text>
<line x1="324.82" y1="576.8" x2="324.82" y2="710.2" stroke="#939393" stroke-width="0.95" />
<rect x="319.37" y="553.2" width="10.9" height="23.6" fill="#ffc8cc" />
<text x="328.29" y="578.9" font-size="9.7" text-anchor="end" fill="#111" font-weight="normal" font-style="normal" transform="rotate(-90 328.29 578.9)" >Toluene</text>
<line x1="356" y1="584.6" x2="356" y2="710.2" stroke="#939393" stroke-width="0.95" />
<rect x="350.55" y="553.2" width="10.9" height="31.4" fill="#c89696" />
<text x="359.47" y="589.4" font-size="9.7" text-anchor="end" fill="#111" font-weight="normal" font-style="normal" transform="rotate(-90 359.47 589.4)" >Benzene</text>
<line x1="387.18" y1="590.7" x2="387.18" y2="710.2" stroke="#939393" stroke-width="0.95" />
<rect x="381.73" y="553.2" width="10.9" height="37.5" fill="#f0916a" />
<text x="390.65" y="594.1" font-size="9.7" text-anchor="end" fill="#111" font-weight="normal" font-style="normal" transform="rotate(-90 390.65 594.1)" >O-xylene</text>
<line x1="418.36" y1="592.8" x2="418.36" y2="710.2" stroke="#939393" stroke-width="0.95" />
<rect x="412.91" y="553.2" width="10.9" height="39.6" fill="#96cd96" />
<text x="421.83" y="595.9" font-size="9.7" text-anchor="end" fill="#111" font-weight="normal" font-style="normal" transform="rotate(-90 421.83 595.9)" >M-xylene</text>
<line x1="449.54" y1="606.4" x2="449.54" y2="710.2" stroke="#939393" stroke-width="0.95" />
<rect x="444.09" y="553.2" width="10.9" height="53.2" fill="#f56a64" />
<text x="453.01" y="608.8" font-size="9.7" text-anchor="end" fill="#111" font-weight="normal" font-style="normal" transform="rotate(-90 453.01 608.8)" >Chloroform</text>
<line x1="480.72" y1="622.3" x2="480.72" y2="710.2" stroke="#939393" stroke-width="0.95" />
<rect x="475.27" y="553.2" width="10.9" height="69.1" fill="#6ec814" />
<text x="484.19" y="625.9" font-size="9.7" text-anchor="end" fill="#111" font-weight="normal" font-style="normal" transform="rotate(-90 484.19 625.9)" >Chlorobenzene</text>
<line x1="511.9" y1="637.7" x2="511.9" y2="710.2" stroke="#939393" stroke-width="0.95" />
<rect x="506.45" y="553.2" width="10.9" height="84.5" fill="#009bcd" />
<text x="515.37" y="642" font-size="9.7" text-anchor="end" fill="#111" font-weight="normal" font-style="normal" transform="rotate(-90 515.37 642)" >Mesitylene</text>
<line x1="543.08" y1="666.3" x2="543.08" y2="710.2" stroke="#939393" stroke-width="0.95" />
<rect x="537.63" y="553.2" width="10.9" height="113.1" fill="#e1731e" />
<text x="546.55" y="667" font-size="9.7" text-anchor="end" fill="#111" font-weight="normal" font-style="normal" transform="rotate(-90 546.55 667)" >Dioxane</text>
<line x1="574.26" y1="553.2" x2="574.26" y2="710.2" stroke="#939393" stroke-width="0.95" />
<rect x="568.81" y="553.8" width="10.9" height="0.9" fill="#f3c29a" />
<text x="577.73" y="559.7" font-size="9.7" text-anchor="end" fill="#111" font-weight="normal" font-style="normal" transform="rotate(-90 577.73 559.7)" >C<tspan font-size="7.2" dy="2.6">2</tspan></text>
<line x1="605.44" y1="553.2" x2="605.44" y2="710.2" stroke="#939393" stroke-width="0.95" />
<rect x="599.99" y="553.8" width="10.9" height="0.9" fill="#f3c29a" />
<text x="608.91" y="559.7" font-size="9.7" text-anchor="end" fill="#111" font-weight="normal" font-style="normal" transform="rotate(-90 608.91 559.7)" >C<tspan font-size="7.2" dy="2.6">4</tspan></text>
<line x1="636.62" y1="553.2" x2="636.62" y2="710.2" stroke="#939393" stroke-width="0.95" />
<rect x="631.17" y="553.8" width="10.9" height="0.9" fill="#f3c29a" />
<text x="640.09" y="559.7" font-size="9.7" text-anchor="end" fill="#111" font-weight="normal" font-style="normal" transform="rotate(-90 640.09 559.7)" >C<tspan font-size="7.2" dy="2.6">8</tspan></text>
<line x1="667.8" y1="553.2" x2="667.8" y2="710.2" stroke="#939393" stroke-width="0.95" />
<rect x="662.35" y="553.8" width="10.9" height="0.9" fill="#f3c29a" />
<text x="671.27" y="560.8" font-size="9.7" text-anchor="end" fill="#111" font-weight="normal" font-style="normal" transform="rotate(-90 671.27 560.8)" >C<tspan font-size="7.2" dy="2.6">12</tspan></text>
<line x1="44.2" y1="710.2" x2="44.2" y2="707" stroke="#1a1a1a" stroke-width="1" />
<line x1="59.79" y1="710.2" x2="59.79" y2="708.2" stroke="#1a1a1a" stroke-width="1" />
<line x1="75.38" y1="710.2" x2="75.38" y2="707" stroke="#1a1a1a" stroke-width="1" />
<line x1="90.97" y1="710.2" x2="90.97" y2="708.2" stroke="#1a1a1a" stroke-width="1" />
<line x1="106.56" y1="710.2" x2="106.56" y2="707" stroke="#1a1a1a" stroke-width="1" />
<line x1="122.15" y1="710.2" x2="122.15" y2="708.2" stroke="#1a1a1a" stroke-width="1" />
<line x1="137.74" y1="710.2" x2="137.74" y2="707" stroke="#1a1a1a" stroke-width="1" />
<line x1="153.33" y1="710.2" x2="153.33" y2="708.2" stroke="#1a1a1a" stroke-width="1" />
<line x1="168.92" y1="710.2" x2="168.92" y2="707" stroke="#1a1a1a" stroke-width="1" />
<line x1="184.51" y1="710.2" x2="184.51" y2="708.2" stroke="#1a1a1a" stroke-width="1" />
<line x1="200.1" y1="710.2" x2="200.1" y2="707" stroke="#1a1a1a" stroke-width="1" />
<line x1="215.69" y1="710.2" x2="215.69" y2="708.2" stroke="#1a1a1a" stroke-width="1" />
<line x1="231.28" y1="710.2" x2="231.28" y2="707" stroke="#1a1a1a" stroke-width="1" />
<line x1="246.87" y1="710.2" x2="246.87" y2="708.2" stroke="#1a1a1a" stroke-width="1" />
<line x1="262.46" y1="710.2" x2="262.46" y2="707" stroke="#1a1a1a" stroke-width="1" />
<line x1="278.05" y1="710.2" x2="278.05" y2="708.2" stroke="#1a1a1a" stroke-width="1" />
<line x1="293.64" y1="710.2" x2="293.64" y2="707" stroke="#1a1a1a" stroke-width="1" />
<line x1="309.23" y1="710.2" x2="309.23" y2="708.2" stroke="#1a1a1a" stroke-width="1" />
<line x1="324.82" y1="710.2" x2="324.82" y2="707" stroke="#1a1a1a" stroke-width="1" />
<line x1="340.41" y1="710.2" x2="340.41" y2="708.2" stroke="#1a1a1a" stroke-width="1" />
<line x1="356" y1="710.2" x2="356" y2="707" stroke="#1a1a1a" stroke-width="1" />
<line x1="371.59" y1="710.2" x2="371.59" y2="708.2" stroke="#1a1a1a" stroke-width="1" />
<line x1="387.18" y1="710.2" x2="387.18" y2="707" stroke="#1a1a1a" stroke-width="1" />
<line x1="402.77" y1="710.2" x2="402.77" y2="708.2" stroke="#1a1a1a" stroke-width="1" />
<line x1="418.36" y1="710.2" x2="418.36" y2="707" stroke="#1a1a1a" stroke-width="1" />
<line x1="433.95" y1="710.2" x2="433.95" y2="708.2" stroke="#1a1a1a" stroke-width="1" />
<line x1="449.54" y1="710.2" x2="449.54" y2="707" stroke="#1a1a1a" stroke-width="1" />
<line x1="465.13" y1="710.2" x2="465.13" y2="708.2" stroke="#1a1a1a" stroke-width="1" />
<line x1="480.72" y1="710.2" x2="480.72" y2="707" stroke="#1a1a1a" stroke-width="1" />
<line x1="496.31" y1="710.2" x2="496.31" y2="708.2" stroke="#1a1a1a" stroke-width="1" />
<line x1="511.9" y1="710.2" x2="511.9" y2="707" stroke="#1a1a1a" stroke-width="1" />
<line x1="527.49" y1="710.2" x2="527.49" y2="708.2" stroke="#1a1a1a" stroke-width="1" />
<line x1="543.08" y1="710.2" x2="543.08" y2="707" stroke="#1a1a1a" stroke-width="1" />
<line x1="558.67" y1="710.2" x2="558.67" y2="708.2" stroke="#1a1a1a" stroke-width="1" />
<line x1="574.26" y1="710.2" x2="574.26" y2="707" stroke="#1a1a1a" stroke-width="1" />
<line x1="589.85" y1="710.2" x2="589.85" y2="708.2" stroke="#1a1a1a" stroke-width="1" />
<line x1="605.44" y1="710.2" x2="605.44" y2="707" stroke="#1a1a1a" stroke-width="1" />
<line x1="621.03" y1="710.2" x2="621.03" y2="708.2" stroke="#1a1a1a" stroke-width="1" />
<line x1="636.62" y1="710.2" x2="636.62" y2="707" stroke="#1a1a1a" stroke-width="1" />
<line x1="652.21" y1="710.2" x2="652.21" y2="708.2" stroke="#1a1a1a" stroke-width="1" />
<line x1="667.8" y1="710.2" x2="667.8" y2="707" stroke="#1a1a1a" stroke-width="1" />
<line x1="28.6" y1="538.3" x2="28.6" y2="710.8" stroke="#000" stroke-width="1.3" />
<line x1="28" y1="553.5" x2="683.8" y2="553.5" stroke="#000" stroke-width="1.05" />
<line x1="683.2" y1="538.3" x2="683.2" y2="710.8" stroke="#000" stroke-width="1.2" />
<line x1="28.6" y1="710.2" x2="683.2" y2="710.2" stroke="#000" stroke-width="1.3" />
<line x1="28.6" y1="594.5" x2="31.8" y2="594.5" stroke="#000" stroke-width="1" />
<line x1="28.6" y1="635.8" x2="31.8" y2="635.8" stroke="#000" stroke-width="1" />
<line x1="28.6" y1="677.1" x2="31.8" y2="677.1" stroke="#000" stroke-width="1" />
<line x1="28.6" y1="573.85" x2="30.6" y2="573.85" stroke="#000" stroke-width="1" />
<line x1="28.6" y1="615.15" x2="30.6" y2="615.15" stroke="#000" stroke-width="1" />
<line x1="28.6" y1="656.45" x2="30.6" y2="656.45" stroke="#000" stroke-width="1" />
<line x1="28.6" y1="697.75" x2="30.6" y2="697.75" stroke="#000" stroke-width="1" />
<text x="25.8" y="556.47" font-size="9.4" text-anchor="end" fill="#111" font-weight="normal" font-style="normal" >0</text>
<text x="25.8" y="597.77" font-size="9.4" text-anchor="end" fill="#111" font-weight="normal" font-style="normal" >-10</text>
<text x="25.8" y="639.07" font-size="9.4" text-anchor="end" fill="#111" font-weight="normal" font-style="normal" >-20</text>
<text x="25.8" y="680.37" font-size="9.4" text-anchor="end" fill="#111" font-weight="normal" font-style="normal" >-30</text>
<text x="10.84" y="631" font-size="11" text-anchor="middle" fill="#111" font-weight="normal" font-style="normal" transform="rotate(-90 10.84 631)" >Green degree (Gd/kg)</text>
<line x1="41.2" y1="545.1" x2="550" y2="545.1" stroke="#000" stroke-width="1.3" stroke-dasharray="1.45 4.3"/>
<line x1="569.8" y1="545.1" x2="673" y2="545.1" stroke="#000" stroke-width="1.3" stroke-dasharray="1.45 4.3"/>
<path d="M28.8,545.1 L39,542.2 L39,548 Z" fill="#000" stroke="none" stroke-width="1" />
<path d="M559,545.1 L549,542.2 L549,548 Z" fill="#000" stroke="none" stroke-width="1" />
<path d="M559.2,545.1 L569.2,542.2 L569.2,548 Z" fill="#000" stroke="none" stroke-width="1" />
<path d="M683.0,545.1 L672.8,542.2 L672.8,548 Z" fill="#000" stroke="none" stroke-width="1" />
<line x1="559.1" y1="538.3" x2="559.1" y2="553.2" stroke="#000" stroke-width="1.4" />
<text x="295" y="540.24" font-size="9.88" text-anchor="middle" fill="#000" font-weight="bold" font-style="normal" >Organic reagents for interfacial polymerization</text>
<text x="623.6" y="540.24" font-size="9.88" text-anchor="middle" fill="#ee2a1a" font-weight="bold" font-style="normal" >In this work</text>
</g>
</svg>
</body></html>
